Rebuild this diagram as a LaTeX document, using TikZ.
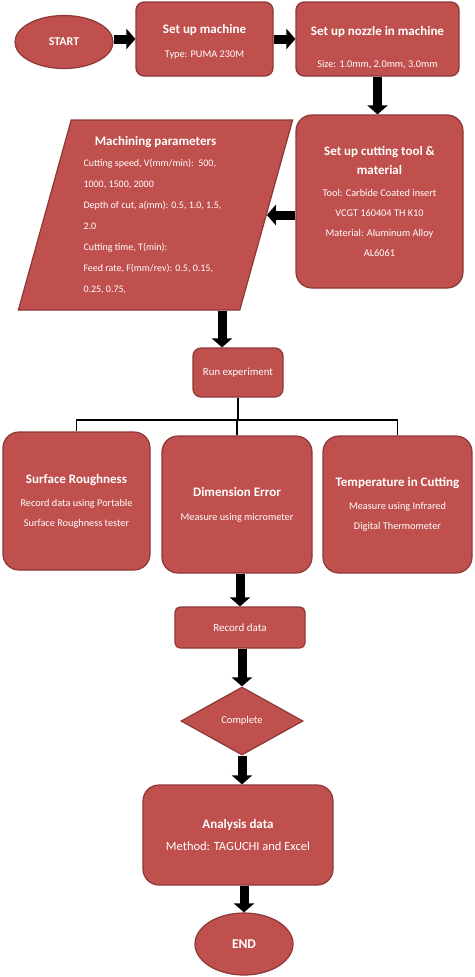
\documentclass[tikz,border=0pt]{standalone}
\usepackage{fontspec}
\setmainfont{Carlito}
\usetikzlibrary{arrows.meta,shapes.geometric}
\definecolor{boxred}{HTML}{C0504D}
\definecolor{boxedge}{HTML}{8C3836}
\newcommand{\hd}[1]{{\fontsize{13}{15}\selectfont\bfseries #1}}

\begin{document}
\begin{tikzpicture}[x=1pt, y=-1pt,
  proc/.style={rectangle, rounded corners=8pt, draw=boxedge, line width=1.2pt, fill=boxred, text=white, align=center, font=\fontsize{10.3}{20}\selectfont, inner sep=2pt},
  bigproc/.style={proc, rounded corners=16pt},
  term/.style={ellipse, draw=boxedge, line width=1.2pt, fill=boxred, text=white, font=\fontsize{12}{14}\selectfont\bfseries, inner sep=0pt},
  decision/.style={diamond, draw=boxedge, line width=1.2pt, fill=boxred, text=white, font=\fontsize{10.5}{12}\selectfont, inner sep=0pt},
  dataio/.style={trapezium, trapezium left angle=74, trapezium right angle=106, trapezium stretches=true, draw=boxedge, line width=1.2pt, fill=boxred, text=white, inner sep=0pt},
  flow/.style={-{Triangle[length=9pt,width=20pt]}, line width=9pt, black},
  branch/.style={line width=1.3pt, black}
]
  \useasboundingbox (0,0) rectangle (474,977);

  % top row
  \node[term, minimum width=98pt, minimum height=53pt] (start) at (64, 42) {START};
  \node[proc, minimum width=137pt, minimum height=74pt] (machine) at (204.5, 39)
    {\rule{0pt}{14pt}\hd{Set up machine}\\[4pt] Type: PUMA 230M};
  \node[proc, minimum width=163pt, minimum height=74pt] (nozzle) at (377.5, 39)
    {\rule{0pt}{26pt}\hd{Set up nozzle in machine}\\[12pt] Size: 1.0mm,\ 2.0mm, 3.0mm};

  % tool and parameters
  \node[bigproc, minimum width=167pt, minimum height=173pt] (tool) at (379.5, 201.5)
    {\hd{Set up cutting tool \&}\\[-1pt] \hd{material}\\[2pt] Tool: Carbide Coated insert\\ VCGT 160404 TH K10\\ Material: Aluminum Alloy\\ AL6061};
  \node[dataio, minimum width=275pt, minimum height=190pt] (params) at (155.5, 215)
    {\parbox{144pt}{\fontsize{10}{21}\selectfont\centering\hd{Machining parameters}\par\raggedright
      Cutting speed, V(mm/min):\ \ 500,\\ 1000, 1500, 2000\\ Depth of cut, a(mm): 0.5, 1.0, 1.5,\\ 2.0\\
      Cutting time, T(min):\\ Feed rate, F(mm/rev): 0.5, 0.15,\\ 0.25, 0.75,}};

  % experiment and measurements
  \node[proc, minimum width=90pt, minimum height=49pt, font=\fontsize{10.8}{12}\selectfont] (run) at (238, 372.5) {Run experiment};
  \node[bigproc, minimum width=147pt, minimum height=138pt] (rough) at (76.5, 501)
    {\hd{Surface Roughness}\\[3pt] Record data using Portable\\ Surface Roughness tester};
  \node[bigproc, minimum width=150pt, minimum height=137pt] (dim) at (237, 504.5)
    {\hd{Dimension Error}\\[4pt] Measure using micrometer};
  \node[bigproc, minimum width=149pt, minimum height=137pt] (temp) at (397.5, 504.5)
    {\hd{Temperature in Cutting}\\[3pt] Measure using Infrared\\ Digital Thermometer};
  \coordinate (split) at (238, 420);

  % final steps
  \node[proc, minimum width=130pt, minimum height=41pt, rounded corners=5pt, font=\fontsize{11}{12}\selectfont] (record) at (240, 627.5) {Record data};
  \node[decision, minimum width=122pt, minimum height=68pt] (complete) at (242, 721) {Complete};
  \node[bigproc, minimum width=190pt, minimum height=100pt, font=\fontsize{12.5}{20}\selectfont] (analysis) at (238, 835)
    {\hd{Analysis data}\\[2pt] Method: TAGUCHI and Excel};
  \node[term, minimum width=98pt, minimum height=62pt, font=\fontsize{13.5}{15}\selectfont\bfseries] (end) at (244, 944) {END};

  % thick arrows
  \path[flow]
    (machine.west -| start.east) edge (machine.west)
    (machine) edge (nozzle)
    (nozzle.south) edge (nozzle.south |- tool.north)
    (tool.west |- params.east) edge (params.east)
    ([xshift=-16pt]run.north |- params.south) edge ([xshift=-16pt]run.north)
    (dim.south -| record.north) edge (record.north)
    (record.south -| complete.north) edge (complete.north)
    (complete.south) edge (complete.south |- analysis.north)
    (analysis.south -| end.north) edge (end.north);

  % branches to the measurements
  \draw[branch] (run.south) -- (split);
  \draw[branch] (split) -| (rough.north);
  \draw[branch] (split) -| (dim.north);
  \draw[branch] (split) -| (temp.north);
\end{tikzpicture}
\end{document}
